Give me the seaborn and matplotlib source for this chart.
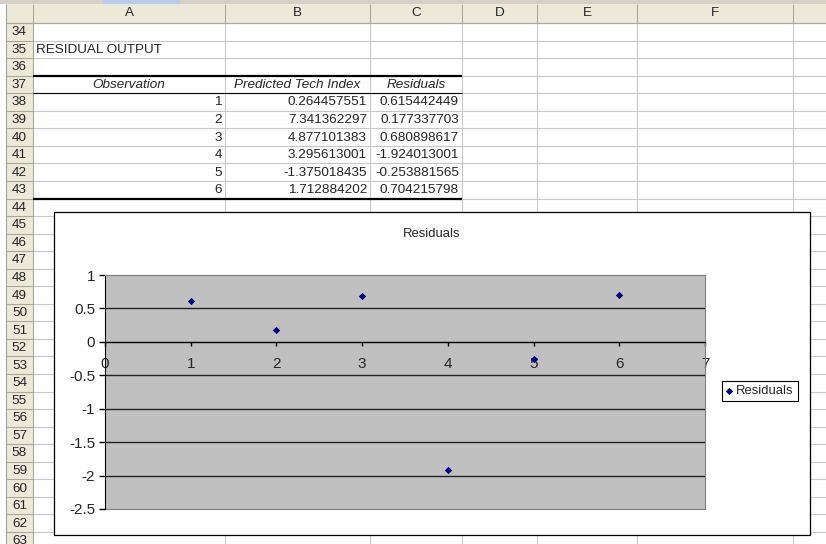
import matplotlib
matplotlib.use("Agg")
import matplotlib.pyplot as plt
import matplotlib.patches as mpatches
import pandas as pd
import seaborn as sns


# Residual output table, as read from the sheet
observations = [1, 2, 3, 4, 5, 6]
predicted = [0.264457551, 7.341362297, 4.877101383, 3.295613001,
             -1.375018435, 1.712884202]
residuals = [0.615442449, 0.177337703, 0.680898617, -1.924013001,
             -0.253881565, 0.704215798]

x_ticks = [0, 1, 2, 3, 4, 5, 6, 7]
y_ticks = [1, 0.5, 0, -0.5, -1, -1.5, -2, -2.5]
y_tick_labels = ["1", "0.5", "0", "-0.5", "-1", "-1.5", "-2", "-2.5"]
column_letters = ["A", "B", "C", "D", "E", "F", ""]
row_numbers = list(range(34, 64))

# sheet geometry (pixels)
W, H = 826, 544
column_edges = [33, 225, 370, 462, 537, 637, 793, 900]
ROW_TOP = 23.0
ROW_H = 17.55
FONT = 9.7
TICK_FONT = 11
CHART_FONT = 9.4

sns.set_style("white")
plt.rcParams["font.family"] = ["Liberation Sans", "DejaVu Sans"]
plt.rcParams["font.size"] = FONT


def row_top(n):
    return ROW_TOP + (n - 34) * ROW_H


figure = plt.figure(figsize=(W / 100, H / 100), dpi=100)

# spreadsheet underneath
sheet = figure.add_axes([0, 0, 1, 1])
sheet.set_xlim(0, W)
sheet.set_ylim(H, 0)
sheet.axis("off")

header_bg = "#ECE9D8"
header_line = "#ACA899"
cell_line = "#C8C8C8"

sheet.add_patch(mpatches.Rectangle((0, 0), W, 3.5, color="#D4D0C8", lw=0))
sheet.add_patch(mpatches.Rectangle((103, 0), 77, 3.5, color="#B8CCEE", lw=0))
sheet.add_patch(mpatches.Rectangle((6, 3.5), W, ROW_TOP - 3.5,
                                   color=header_bg, lw=0))
sheet.add_patch(mpatches.Rectangle((6, ROW_TOP), column_edges[0] - 6, H,
                                   color=header_bg, lw=0))
sheet.vlines(6, 3.5, H, color="#A0A0A0", lw=0.8)

# cell grid
for n in row_numbers + [row_numbers[-1] + 1]:
    y = row_top(n)
    sheet.hlines(y, column_edges[0], W, color=cell_line, lw=0.8)
    sheet.hlines(y, 6, column_edges[0], color=header_line, lw=0.8)
for x in column_edges[1:]:
    sheet.vlines(x, ROW_TOP, H, color=cell_line, lw=0.8)
    sheet.vlines(x, 3.5, ROW_TOP, color=header_line, lw=0.8)
sheet.vlines(column_edges[0], 3.5, H, color=header_line, lw=0.8)
sheet.hlines(ROW_TOP, 6, W, color=header_line, lw=0.8)

for letter, left, right in zip(column_letters, column_edges[:-1],
                               column_edges[1:]):
    sheet.text((left + right) / 2, 13, letter, ha="center", va="center")
for n in row_numbers:
    sheet.text(19.5, row_top(n) + ROW_H / 2 + 0.5, str(n),
               ha="center", va="center")

# table contents
sheet.text(36, row_top(35) + ROW_H / 2 + 0.5, "RESIDUAL OUTPUT",
           ha="left", va="center")
headers = ["Observation", "Predicted Tech Index", "Residuals"]
for i, label in enumerate(headers):
    sheet.text((column_edges[i] + column_edges[i + 1]) / 2,
               row_top(37) + ROW_H / 2 + 1, label,
               ha="center", va="center", style="italic")
for k, (obs, pred, res) in enumerate(zip(observations, predicted, residuals)):
    y = row_top(38 + k) + ROW_H / 2 + 0.5
    sheet.text(column_edges[1] - 3, y, str(obs), ha="right", va="center")
    sheet.text(column_edges[2] - 3, y, "{:.9f}".format(pred),
               ha="right", va="center")
    sheet.text(column_edges[3] - 3, y, "{:.9f}".format(res),
               ha="right", va="center")
sheet.hlines(row_top(37), column_edges[0], column_edges[3], color="black",
             lw=1.6)
sheet.hlines(row_top(38), column_edges[0], column_edges[3], color="black",
             lw=0.8)
sheet.hlines(row_top(44), column_edges[0], column_edges[3], color="black",
             lw=1.6)

# embedded chart object
sheet.add_patch(mpatches.Rectangle((54, 212), 756, 323, facecolor="white",
                                   edgecolor="black", lw=0.9, zorder=5))
figure.text(432 / W, 1 - 234 / H, "Residuals", ha="center", va="center",
            fontsize=CHART_FONT)

axes = figure.add_axes([105 / W, (H - 509) / H, 600 / W, 234 / H])
axes.set_facecolor("#C0C0C0")
data = pd.DataFrame({"observation": observations, "residual": residuals})
sns.scatterplot(
    x="observation", y="residual", data=data, ax=axes,
    marker="D", color="#000080", s=14, linewidth=0,
    label="Residuals", zorder=4, clip_on=False)

axes.set_xlim(0, 7)
axes.set_ylim(-2.5, 1)
axes.set_xticks(x_ticks)
axes.set_xticklabels([str(t) for t in x_ticks])
axes.set_yticks(y_ticks)
axes.set_yticklabels(y_tick_labels)
axes.set_xlabel("")
axes.set_ylabel("")

axes.spines["bottom"].set_position(("data", 0))
axes.spines["bottom"].set_color("black")
axes.spines["left"].set_color("black")
for side in ["top", "right"]:
    axes.spines[side].set_color("#808080")
    axes.spines[side].set_linewidth(0.8)

axes.set_axisbelow(True)
axes.yaxis.grid(True, color="#222222", lw=1.0)
for tick in axes.yaxis.get_major_ticks():
    if tick.get_loc() in (1, -2.5):
        tick.gridline.set_color("#808080")
        tick.gridline.set_linewidth(0.8)
        tick.gridline.set_clip_on(False)

axes.tick_params(axis="x", direction="out", length=3, width=1, pad=8,
                 color="black", labelsize=TICK_FONT, bottom=True)
axes.tick_params(axis="y", direction="out", length=4, width=1, pad=3,
                 color="black", labelsize=TICK_FONT, left=True)

legend = axes.legend(
    loc="center left", bbox_to_anchor=(722 / W, 1 - 391 / H),
    bbox_transform=figure.transFigure, frameon=True, fancybox=False,
    edgecolor="black", framealpha=1, handlelength=0.5, handletextpad=0.3,
    borderpad=0.3, borderaxespad=0, fontsize=CHART_FONT, markerscale=1.0)
legend.get_frame().set_linewidth(0.8)

plt.savefig("out.png", dpi=100)
